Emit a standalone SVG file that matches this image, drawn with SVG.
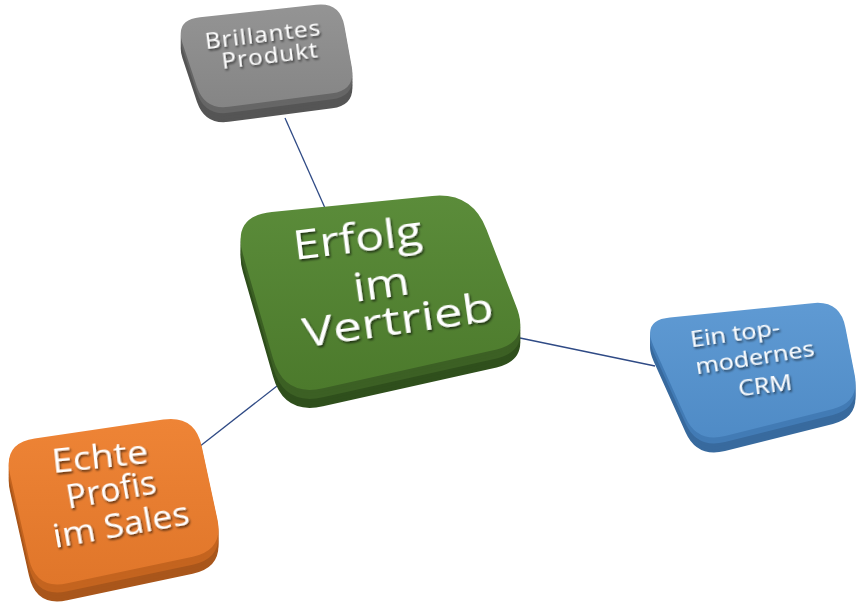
<svg xmlns="http://www.w3.org/2000/svg" xmlns:xlink="http://www.w3.org/1999/xlink" width="856" height="608" viewBox="0 0 856 608">
<style>
.lbl{font-family:"Open Sans","Liberation Sans",sans-serif;fill:#ffffff;text-anchor:middle;filter:url(#ts)}
.conn{stroke:#2f4a85;stroke-width:1.3;fill:none}
</style>
<defs>
<filter id="ts" x="-20%" y="-30%" width="140%" height="160%">
<feDropShadow dx="1" dy="2" stdDeviation="0.8" flood-color="#000" flood-opacity="0.65"/>
</filter>
<linearGradient id="gTop" x1="0" y1="0" x2="0" y2="1"><stop offset="0" stop-color="#5b8c3a"/><stop offset="1" stop-color="#4c7a2c"/></linearGradient>
<linearGradient id="yTop" x1="0" y1="0" x2="0" y2="1"><stop offset="0" stop-color="#949494"/><stop offset="1" stop-color="#858585"/></linearGradient>
<linearGradient id="bTop" x1="0" y1="0" x2="0" y2="1"><stop offset="0" stop-color="#5f9ad3"/><stop offset="1" stop-color="#4f8bc6"/></linearGradient>
<linearGradient id="oTop" x1="0" y1="0" x2="0" y2="1"><stop offset="0" stop-color="#ee8436"/><stop offset="1" stop-color="#e0762a"/></linearGradient>
<path id="sGreen" d="M271.8 212 L432.2 196 Q472 192 486.4 229.3 L515.6 304.7 Q532 344 491 350.7 L323 388.3 Q284 397 273 358.6 L243 254.4 Q232 216 271.8 212 Z"/>
<path id="sGray" d="M200 17.3 L316.2 4.7 Q340 2 344.3 25.6 L351.7 66.4 Q356 90 332.2 93.2 L228.8 106.8 Q205 110 197 86.9 L182.4 43.1 Q175 20 200 17.3 Z"/>
<path id="sBlue" d="M670 317.5 L812.2 303.2 Q840 300 845.4 327.5 L854.6 374.5 Q860 402 832.9 409 L725 436.1 Q697 443 685.5 417.3 L653.5 346 Q642 320 670 317.5 Z"/>
<path id="sOrange" d="M34.7 438.4 L163.3 419.6 Q195 415 201.7 446.3 L217.3 518.7 Q224 550 192.7 556.7 L67.3 583.3 Q36 590 29 558.8 L10 474.2 Q3 443 34.7 438.4 Z"/>
</defs>
<rect width="856" height="608" fill="#ffffff"/>
<g id="connectors">
<line class="conn" x1="285" y1="118" x2="329" y2="217"/>
<line class="conn" x1="520" y1="338" x2="655" y2="366"/>
<line class="conn" x1="190" y1="454" x2="286" y2="379"/>
</g>
<g id="node-gray">
<g fill="#555555">
<use xlink:href="#sGray" transform="translate(0,15)"/>
<use xlink:href="#sGray" transform="translate(0,12)"/>
<use xlink:href="#sGray" transform="translate(0,9)"/>
</g>
<g fill="#666666">
<use xlink:href="#sGray" transform="translate(0,6)"/>
<use xlink:href="#sGray" transform="translate(0,3)"/>
</g>
<use xlink:href="#sGray" fill="url(#yTop)"/>
<text class="lbl" font-size="22" letter-spacing="1" transform="translate(264,42) rotate(-7) scale(1.1,1)">Brillantes</text>
<text class="lbl" font-size="22" letter-spacing="1" transform="translate(271,63) rotate(-7) scale(1.1,1)">Produkt</text>
</g>
<g id="node-green">
<g fill="#2f4f1c">
<use xlink:href="#sGreen" transform="translate(0,18)"/>
<use xlink:href="#sGreen" transform="translate(0,15)"/>
<use xlink:href="#sGreen" transform="translate(0,12)"/>
</g>
<g fill="#3c6024">
<use xlink:href="#sGreen" transform="translate(0,9)"/>
<use xlink:href="#sGreen" transform="translate(0,6)"/>
<use xlink:href="#sGreen" transform="translate(0,3)"/>
</g>
<use xlink:href="#sGreen" fill="url(#gTop)"/>
<text class="lbl" font-size="40" transform="translate(359,252) rotate(-7) scale(1.2,1)">Erfolg</text>
<text class="lbl" font-size="40" transform="translate(383,298) rotate(-8) scale(1.2,1)">im</text>
<text class="lbl" font-size="40" transform="translate(400,334) rotate(-8) scale(1.28,1)">Vertrieb</text>
</g>
<g id="node-blue">
<g fill="#386a9e">
<use xlink:href="#sBlue" transform="translate(0,15)"/>
<use xlink:href="#sBlue" transform="translate(0,12)"/>
<use xlink:href="#sBlue" transform="translate(0,9)"/>
</g>
<g fill="#427bb5">
<use xlink:href="#sBlue" transform="translate(0,6)"/>
<use xlink:href="#sBlue" transform="translate(0,3)"/>
</g>
<use xlink:href="#sBlue" fill="url(#bTop)"/>
<text class="lbl" font-size="21" transform="translate(736,341) rotate(-8) scale(1.2,1)">Ein top-</text>
<text class="lbl" font-size="21" transform="translate(756,365) rotate(-9) scale(1.2,1)">modernes</text>
<text class="lbl" font-size="21" transform="translate(766,393) rotate(-7) scale(1.2,1)">CRM</text>
</g>
<g id="node-orange">
<g fill="#a9561b">
<use xlink:href="#sOrange" transform="translate(0,17)"/>
<use xlink:href="#sOrange" transform="translate(0,14)"/>
<use xlink:href="#sOrange" transform="translate(0,11)"/>
</g>
<g fill="#c4641f">
<use xlink:href="#sOrange" transform="translate(0,8)"/>
<use xlink:href="#sOrange" transform="translate(0,5)"/>
<use xlink:href="#sOrange" transform="translate(0,2)"/>
</g>
<use xlink:href="#sOrange" fill="url(#oTop)"/>
<text class="lbl" font-size="33" transform="translate(101,468) rotate(-6) scale(1.14,1)">Echte</text>
<text class="lbl" font-size="33" transform="translate(113,501) rotate(-10) scale(1.03,1)">Profis</text>
<text class="lbl" font-size="33" transform="translate(123,536) rotate(-10) scale(1.09,1)">im Sales</text>
</g>
</svg>
